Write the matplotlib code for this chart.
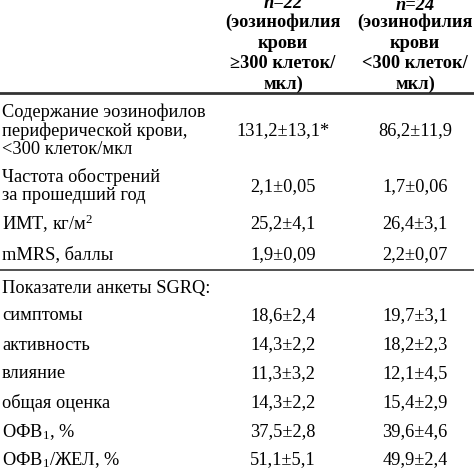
import matplotlib
matplotlib.use("Agg")
import matplotlib.pyplot as plt

plt.rcParams["mathtext.fontset"] = "custom"
plt.rcParams["mathtext.rm"] = "Liberation Serif"
plt.rcParams["mathtext.it"] = "Liberation Serif:italic"

header1 = ["n=22", "(эозинофилия", "крови", "≥300 клеток/", "мкл)"]
header2 = ["n=24", "(эозинофилия", "крови", "<300 клеток/", "мкл)"]
labels = [
    (["Содержание эозинофилов", "периферической крови,", "<300 клеток/мкл"], "131,2±13,1*", "86,2±11,9"),
    (["Частота обострений", "за прошедший год"], "2,1±0,05", "1,7±0,06"),
    (["ИМТ, кг/м$^2$"], "25,2±4,1", "26,4±3,1"),
    (["mMRS, баллы"], "1,9±0,09", "2,2±0,07"),
    (["Показатели анкеты SGRQ:"], "", ""),
    (["симптомы"], "18,6±2,4", "19,7±3,1"),
    (["активность"], "14,3±2,2", "18,2±2,3"),
    (["влияние"], "11,3±3,2", "12,1±4,5"),
    (["общая оценка"], "14,3±2,2", "15,4±2,9"),
    (["ОФВ$_1$, %"], "37,5±2,8", "39,6±4,6"),
    (["ОФВ$_1$/ЖЕЛ, %"], "51,1±5,1", "49,9±2,4"),
]
row_y = [[112, 131, 150], [177, 196], [224], [255], [288], [316], [345], [374], [403], [432], [460]]
val_y = [131, 187, 224, 255, 288, 316, 345, 374, 403, 432, 460]

W = H = 474
fig = plt.figure(figsize=(4.74, 4.74), dpi=100)
fs = 13.2
ff = "Liberation Serif"
def T(x, y, s, size=fs, **kw):
    fig.text(x / W, 1 - y / H, s, fontsize=size, family=ff, va="center", **kw)

hy = [4, 22, 43, 63, 84]
for i, (a, b) in enumerate(zip(header1, header2)):
    st = "italic" if i == 0 else "normal"
    T(283, hy[i], a, ha="center", weight="bold", style=st)
    T(415, hy[i] + (1 if i == 0 else 0), b, ha="center", weight="bold", style=st)

for (lines, v1, v2), ys, vy in zip(labels, row_y, val_y):
    for s, y in zip(lines, ys):
        T(2, y, s, ha="left")
    T(283, vy, v1, ha="center")
    T(415, vy, v2, ha="center")

for y, lw in [(93, 2.0), (270, 1.2)]:
    fig.add_artist(plt.Line2D([0, 1], [1 - y / H] * 2, color="#333333", lw=lw))

fig.savefig("out.png", dpi=100, facecolor="white")
